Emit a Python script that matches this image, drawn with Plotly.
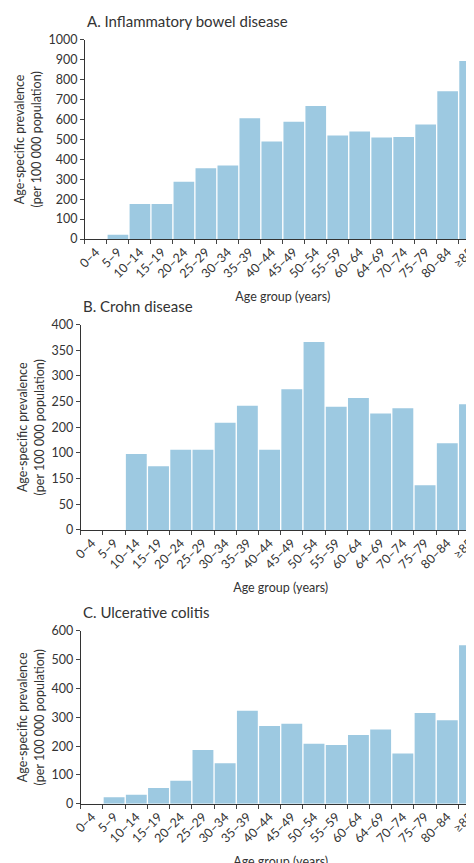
import plotly.graph_objects as go

age_groups = ["0–4", "5–9", "10–14", "15–19", "20–24", "25–29", "30–34", "35–39", "40–44",
              "45–49", "50–54", "55–59", "60–64", "64–69", "70–74", "75–79", "80–84", "≥85"]
ibd = [0, 21, 176, 176, 287, 355, 369, 606, 489, 589, 667, 520, 539, 509, 512, 575, 742, 893]
crohn = [0, 0, 148, 124, 156, 156, 209, 242, 156, 274, 366, 240, 257, 227, 237, 87, 169, 245]
uc = [0, 23, 31, 55, 80, 187, 141, 323, 270, 278, 208, 204, 239, 258, 174, 315, 290, 550]

# tick labels as printed in the original (B has 100 and 150 swapped)
crohn_ticktext = ["0", "50", "150", "100", "200", "250", "300", "350", "400"]

panels = [
    ("A. Inflammatory bowel disease", ibd, [0.737, 0.972], 1000, 100, None, 0.148),
    ("B. Crohn disease", crohn, [0.394, 0.636], 400, 50, crohn_ticktext, 0.139),
    ("C. Ulcerative colitis", uc, [0.071, 0.275], 600, 100, None, 0.139),
]

font = dict(family="Lato, Open Sans, sans-serif", size=12.5, color="#333")
fig = go.Figure()
for i, (title, vals, dom, ymax, step, ticktext, x0) in enumerate(panels, start=1):
    sfx = "" if i == 1 else str(i)
    fig.add_trace(go.Bar(x=age_groups, y=vals, marker_color="#9dc9e1", marker_line_width=0,
                         xaxis="x" + sfx, yaxis="y" + sfx, showlegend=False))
    tv = list(range(0, ymax + 1, step))
    fig.update_layout(**{
        "xaxis" + sfx: dict(domain=[x0, 0.997], anchor="y" + sfx, type="category",
                            range=[-0.5, len(age_groups) - 0.5],
                            tickangle=-45, ticks="outside", tickson="boundaries", ticklen=4,
                            showline=True, linecolor="#333", linewidth=1, showgrid=False,
                            tickfont=font, title=dict(text="Age group (years)", font=font, standoff=12)),
        "yaxis" + sfx: dict(domain=dom, anchor="x" + sfx, range=[0, ymax], tickvals=tv,
                            ticktext=ticktext if ticktext else [str(v) for v in tv],
                            ticks="outside", ticklen=4, showline=True, linecolor="#333",
                            showgrid=False, zeroline=False, tickfont=font,
                            title=dict(text="Age-specific prevalence<br>(per 100 000 population)",
                                       font=font, standoff=4)),
    })
    fig.add_annotation(text=title, xref="x" + sfx + " domain", yref="y" + sfx + " domain",
                       x=0.0, y=1.0, yshift=8, xanchor="left", yanchor="bottom",
                       showarrow=False, font=dict(family=font["family"], size=15, color="#333"))

fig.update_layout(width=474, height=863, margin=dict(l=0, r=0, t=0, b=0),
                  plot_bgcolor="white", paper_bgcolor="white", bargap=0.06, font=font)
fig.write_html("out.html")
